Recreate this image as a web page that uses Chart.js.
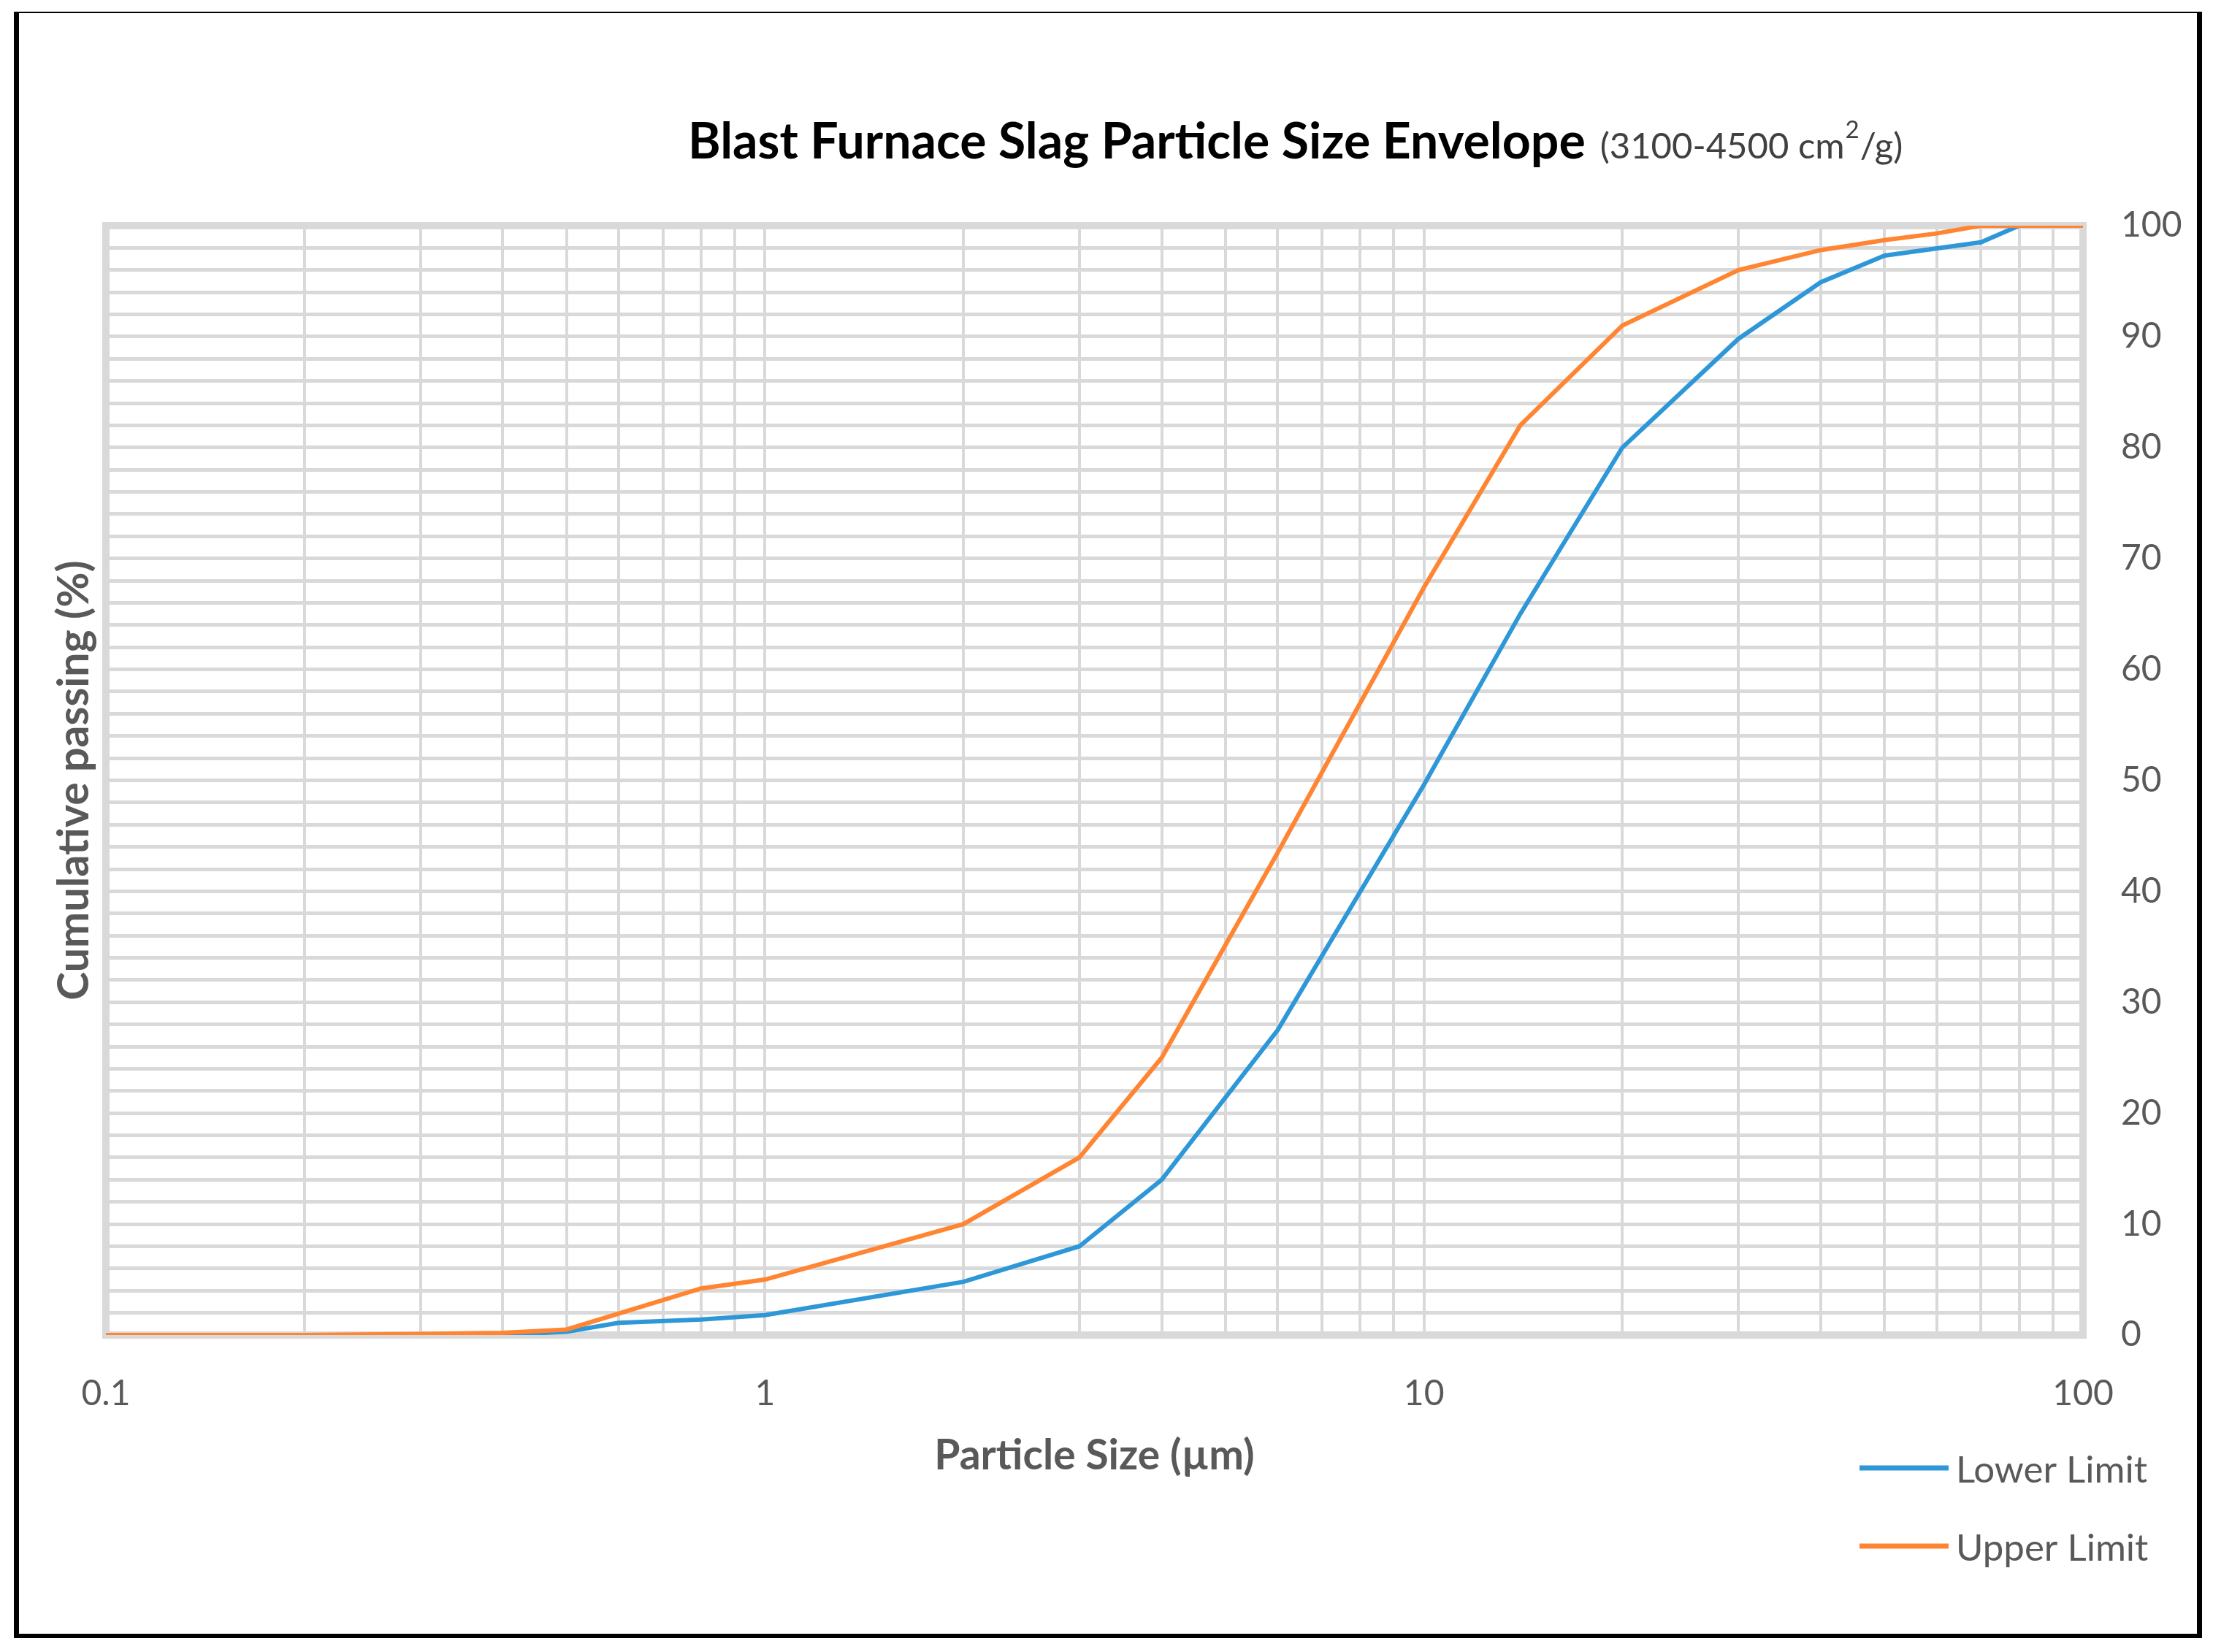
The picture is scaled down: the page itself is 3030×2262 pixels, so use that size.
<!DOCTYPE html>
<html>
<head>
<meta charset="utf-8">
<script src="https://cdn.jsdelivr.net/npm/chart.js@4.4.1/dist/chart.umd.min.js"></script>
<style>
  html, body { margin: 0; padding: 0; background: #ffffff; }
  #c { display: block; }
</style>
</head>
<body>
<canvas id="c" width="3030" height="2262"></canvas>
<script>
// ---------------- data ----------------
const lowerSizes  = [0.1, 0.2, 0.3, 0.4, 0.5, 0.6, 0.8, 1, 2, 3, 4, 6, 10, 14, 20, 30, 40, 50, 70, 80, 100];
const lowerValues = [0, 0, 0, 0, 0.3, 1.1, 1.4, 1.8, 4.8, 8, 14, 27.5, 49.6, 65, 80, 89.8, 94.9, 97.3, 98.5, 100, 100];

const upperSizes  = [0.1, 0.2, 0.3, 0.4, 0.5, 0.8, 1, 2, 3, 4, 6, 10, 14, 20, 30, 40, 50, 60, 70, 100];
const upperValues = [0, 0, 0.1, 0.2, 0.5, 4.2, 5, 10, 16, 25, 43.5, 67.4, 82, 91, 96, 97.8, 98.7, 99.3, 100, 100];

const seriesNames = ['Lower Limit', 'Upper Limit'];

const xTickValues = [0.1, 0.2, 0.3, 0.4, 0.5, 0.6, 0.7, 0.8, 0.9,
                     1, 2, 3, 4, 5, 6, 7, 8, 9,
                     10, 20, 30, 40, 50, 60, 70, 80, 90, 100];
const xLabelValues = [0.1, 1, 10, 100];
const yGridStep = 2;
const yLabelStep = 10;

const chartTitle = 'Blast Furnace Slag Particle Size Envelope';
const chartSubtitleA = '(3100-4500 cm';
const chartSubtitleSup = '2';
const chartSubtitleB = '/g)';
const xAxisTitle = 'Particle Size (\u00B5m)';
const yAxisTitle = 'Cumulative passing (%)';

// ---------------- styling ----------------
const BLUE = '#2E97D8';
const ORANGE = '#FF8533';
const GRID = '#d9d9d9';
const TEXT_GRAY = '#595959';
const FONT = 'Lato';

function toPoints(xs, ys) { return xs.map((x, i) => ({ x: x, y: ys[i] })); }

const decorPlugin = {
  id: 'decor',
  beforeDraw(chart) {
    const ctx = chart.ctx;
    ctx.save();
    ctx.fillStyle = '#ffffff';
    ctx.fillRect(0, 0, chart.width, chart.height);
    ctx.restore();
  },
  beforeDatasetsDraw(chart) {
    const a = chart.chartArea;
    const ctx = chart.ctx;
    ctx.save();
    ctx.strokeStyle = GRID;
    ctx.lineWidth = 10;
    ctx.strokeRect(a.left, a.top, a.right - a.left, a.bottom - a.top);
    ctx.restore();
  },
  afterDraw(chart) {
    const ctx = chart.ctx;
    const a = chart.chartArea;
    ctx.save();

    // Title
    ctx.textBaseline = 'alphabetic';
    ctx.textAlign = 'left';
    ctx.fillStyle = '#000000';
    ctx.font = 'bold 68px ' + FONT;
    const tx = 942, ty = 217;
    ctx.fillText(chartTitle, tx, ty);
    let w = ctx.measureText(chartTitle).width;
    ctx.fillStyle = '#404040';
    ctx.font = '49px ' + FONT;
    let sx = tx + w + 20;
    ctx.fillText(chartSubtitleA, sx, ty);
    sx += ctx.measureText(chartSubtitleA).width;
    ctx.font = '33px ' + FONT;
    ctx.fillText(chartSubtitleSup, sx + 1, ty - 28);
    sx += ctx.measureText(chartSubtitleSup).width + 2;
    ctx.font = '49px ' + FONT;
    ctx.fillText(chartSubtitleB, sx, ty);

    // Y axis title (left side)
    ctx.save();
    ctx.translate(102, (a.top + a.bottom) / 2);
    ctx.rotate(-Math.PI / 2);
    ctx.textAlign = 'center';
    ctx.textBaseline = 'middle';
    ctx.fillStyle = TEXT_GRAY;
    ctx.font = 'bold 59px ' + FONT;
    ctx.fillText(yAxisTitle, 0, 0);
    ctx.restore();

    // Legend (bottom right, stacked)
    const legendY = [2010, 2117];
    chart.data.datasets.forEach((ds, i) => {
      const y = legendY[i];
      ctx.strokeStyle = ds.borderColor;
      ctx.lineWidth = 7;
      ctx.beginPath();
      ctx.moveTo(2546, y);
      ctx.lineTo(2668, y);
      ctx.stroke();
      ctx.fillStyle = TEXT_GRAY;
      ctx.font = '51px ' + FONT;
      ctx.textAlign = 'left';
      ctx.textBaseline = 'middle';
      ctx.fillText(ds.label, 2678, y + 4);
    });

    // outer frame
    ctx.fillStyle = '#000000';
    ctx.fillRect(19, 16, 7, 2227);
    ctx.fillRect(19, 16, 2996, 2);
    ctx.fillRect(3008, 16, 7, 2227);
    ctx.fillRect(19, 2237, 2996, 6);
    ctx.restore();
  }
};

Chart.defaults.font.family = FONT;

new Chart(document.getElementById('c'), {
  type: 'line',
  data: {
    datasets: [
      {
        label: seriesNames[0],
        data: toPoints(lowerSizes, lowerValues),
        borderColor: BLUE,
        backgroundColor: BLUE,
        borderWidth: 6,
        pointRadius: 0,
        tension: 0,
        order: 1
      },
      {
        label: seriesNames[1],
        data: toPoints(upperSizes, upperValues),
        borderColor: ORANGE,
        backgroundColor: ORANGE,
        borderWidth: 6,
        pointRadius: 0,
        tension: 0,
        order: 0
      }
    ]
  },
  options: {
    responsive: false,
    animation: false,
    devicePixelRatio: 1,
    layout: { padding: { left: 145, top: 309, right: 0, bottom: 0 } },
    plugins: {
      legend: { display: false },
      title: { display: false },
      tooltip: { enabled: false }
    },
    scales: {
      x: {
        type: 'logarithmic',
        position: 'bottom',
        min: 0.1,
        max: 100,
        afterBuildTicks: (scale) => { scale.ticks = xTickValues.map(v => ({ value: v })); },
        afterFit: (scale) => { scale.height = 434; },
        grid: { color: GRID, lineWidth: 4, drawTicks: false },
        border: { display: false },
        ticks: {
          autoSkip: false,
          maxRotation: 0,
          minRotation: 0,
          padding: 52,
          color: TEXT_GRAY,
          font: { size: 48 },
          callback: (v) => xLabelValues.includes(Number(v)) ? String(v) : ''
        },
        title: {
          display: true,
          text: xAxisTitle,
          color: TEXT_GRAY,
          font: { size: 57, weight: 'bold' },
          padding: { top: 0, bottom: 234 }
        }
      },
      y: {
        type: 'linear',
        position: 'right',
        min: 0,
        max: 100,
        afterBuildTicks: (scale) => {
          const t = [];
          for (let v = 0; v <= 100; v += yGridStep) t.push({ value: v });
          scale.ticks = t;
        },
        afterFit: (scale) => { scale.width = 178; },
        grid: { color: GRID, lineWidth: 5, drawTicks: false },
        border: { display: false },
        ticks: {
          autoSkip: false,
          padding: 52,
          color: TEXT_GRAY,
          font: { size: 48 },
          callback: (v) => (v % yLabelStep === 0 ? String(v) : '')
        }
      }
    }
  },
  plugins: [decorPlugin]
});
</script>
</body>
</html>
